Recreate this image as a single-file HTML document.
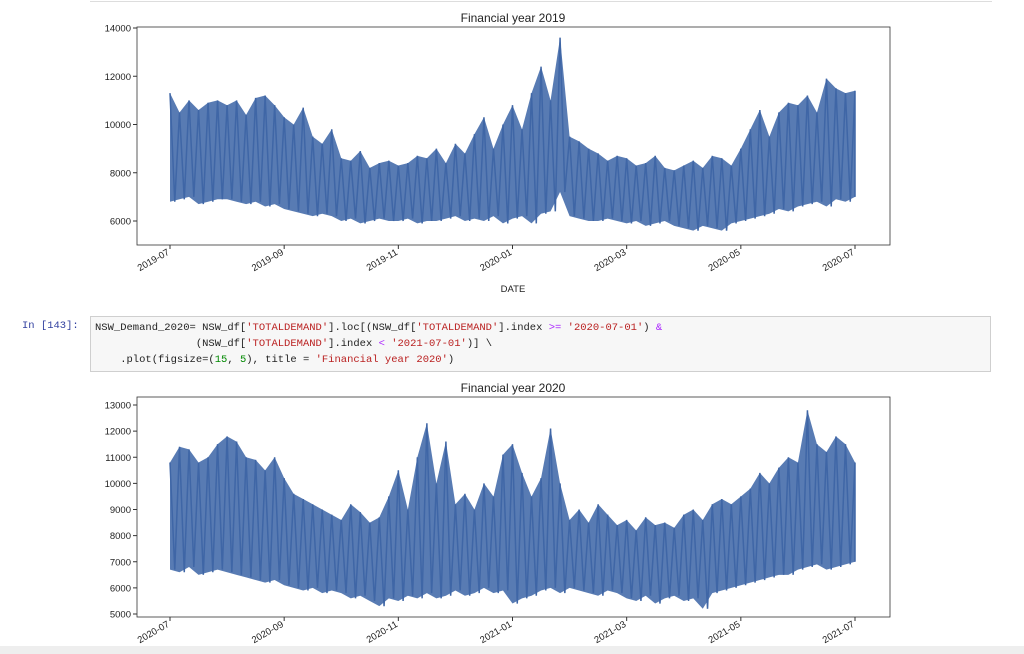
<!DOCTYPE html>
<html><head><meta charset="utf-8"><style>
body{margin:0;width:1024px;height:654px;background:#fff;overflow:hidden;font-family:"Liberation Sans",sans-serif;position:relative}
.code{position:absolute;left:90px;top:316px;width:901px;height:56px;background:#f7f7f7;border:1px solid #cfcfcf;font-family:"Liberation Mono",monospace;font-size:10.5px;line-height:16px;padding-top:3px;box-sizing:border-box;padding-left:4px;white-space:pre;color:#222}
.s{color:#ba2121}.n{color:#080}.o{color:#a2f}
</style></head><body>
<div style="position:absolute;left:90px;top:1px;width:902px;height:1px;background:#ddd"></div>
<div style="position:absolute;left:22px;top:320px;font-family:'Liberation Mono',monospace;font-size:10.5px;color:#303f9f">In  [143]:</div>
<div class="code">NSW_Demand_2020= NSW_df[<span class="s">'TOTALDEMAND'</span>].loc[(NSW_df[<span class="s">'TOTALDEMAND'</span>].index <span class="o">&gt;=</span> <span class="s">'2020-07-01'</span>) <span class="o">&amp;</span>
                (NSW_df[<span class="s">'TOTALDEMAND'</span>].index <span class="o">&lt;</span> <span class="s">'2021-07-01'</span>)] \
    .plot(figsize=(<span class="n">15</span>, <span class="n">5</span>), title = <span class="s">'Financial year 2020'</span>)</div>
<div style="position:absolute;left:0;top:646px;width:1024px;height:8px;background:#eee"></div>
<svg id="svg" width="1024" height="654" style="position:absolute;left:0;top:0"></svg>
<script>
const ticks1=["2019-07","2019-09","2019-11","2020-01","2020-03","2020-05","2020-07"];
const ticks2=["2020-07","2020-09","2020-11","2021-01","2021-03","2021-05","2021-07"];
const yTicks1=[6000,8000,10000,12000,14000];
const yTicks2=[5000,6000,7000,8000,9000,10000,11000,12000,13000];
const max1=[11300,10500,11000,10600,10900,11000,10800,11000,10400,11100,11200,10800,10300,10000,10700,9500,9200,9800,8600,8500,8900,8200,8400,8500,8300,8400,8700,8600,9000,8400,9200,8800,9600,10300,9000,10000,10800,9800,11300,12400,11000,13600,9500,9300,9000,8800,8500,8700,8600,8300,8400,8700,8200,8100,8300,8500,8200,8700,8600,8300,9000,9800,10600,9500,10500,10900,10800,11200,10500,11900,11500,11300,11400];
const min1=[6800,6900,7000,6700,6800,6900,6900,6800,6700,6800,6600,6700,6500,6400,6300,6200,6300,6200,6000,6100,5900,6000,6100,6000,6000,6100,5900,6000,6000,6100,6200,6000,6100,6000,6200,5900,6100,6200,5900,6300,6400,7200,6200,6100,6000,6000,6100,6000,5900,6000,5800,5900,6000,5800,5700,5600,5800,5700,5600,5900,6000,6100,6200,6300,6500,6400,6600,6700,6800,6600,6900,6800,7000];
const max2=[10800,11400,11300,10800,11000,11500,11800,11600,11000,10900,10500,11000,10200,9600,9400,9200,9000,8800,8600,9200,8900,8500,8700,9500,10500,9000,11000,12300,10000,11600,9200,9600,9000,10000,9500,11100,11500,10400,9500,10200,12100,10000,8600,9000,8500,9200,8800,8400,8600,8200,8700,8400,8500,8300,8800,9000,8600,9200,9400,9200,9500,9800,10400,10000,10600,11000,10800,12800,11500,11200,11800,11500,10800];
const min2=[6700,6600,6800,6500,6600,6700,6600,6500,6400,6300,6200,6300,6100,6000,5900,6000,5800,5900,5800,5600,5700,5500,5300,5600,5500,5700,5600,5800,5600,5700,5900,5700,5800,6000,5800,5900,5400,5600,5700,5900,6000,5800,6000,5900,5800,5700,5900,5800,5600,5500,5700,5400,5600,5700,5500,5600,5200,5800,5900,6000,6100,6200,6300,6400,6500,6500,6700,6800,6900,6700,6800,6900,7000];
const svg=document.getElementById('svg');const NS='http://www.w3.org/2000/svg';
function mk(t,a,p){const e=document.createElementNS(NS,t);for(const k in a)e.setAttribute(k,a[k]);(p||svg).appendChild(e);return e;}
function chart(top,bottom,yLo,yHi,yPxLo,yPxHi,yTicks,xTicks,maxA,minA,title,showDate,nm){
  const g=mk('g',{});
  
  
  const X0=170,X1=855;
  const x=i=>X0+(X1-X0)*i/(maxA.length-1);
  const y=v=>yPxLo+(yPxHi-yPxLo)*(v-yLo)/(yHi-yLo);
  const t=mk('text',{x:513,y:top-5,'text-anchor':'middle','font-size':12,fill:'#222'},g);t.textContent=title;
  
  
  let up='',dn='',zz='';
  maxA.forEach((v,i)=>{up+=x(i)+','+y(v)+' ';});
  for(let i=minA.length-1;i>=0;i--)dn+=x(i)+','+y(minA[i])+' ';
  const area=mk('polygon',{points:up+dn,fill:'#4a70ad','fill-opacity':0.92},g);
  
  
  maxA.forEach((v,i)=>{const xa=x(i),xb=x(Math.min(i+0.5,maxA.length-1));zz+=xa+','+y(v)+' '+xb+','+y(minA[i])+' ';});
  const line=mk('polyline',{points:zz,fill:'none',stroke:'#3f66a6','stroke-width':1.5},g);
  
  
  const box=mk('rect',{x:137,y:top,width:753,height:bottom-top,fill:'none',stroke:'#333','stroke-width':0.8},g);
  
  
  yTicks.forEach(v=>{const yy=y(v);mk('line',{x1:133,x2:137,y1:yy,y2:yy,stroke:'#333'},g);
    const l=mk('text',{x:131,y:yy+3.5,'text-anchor':'end','font-size':9.5,fill:'#222'},g);l.textContent=v;
    
    });
  xTicks.forEach((s,i)=>{const xx=X0+(X1-X0)*i/(xTicks.length-1);mk('line',{x1:xx,x2:xx,y1:bottom,y2:bottom+4,stroke:'#333'},g);
    const l=mk('text',{x:xx,y:bottom+9,'text-anchor':'end','font-size':9.5,fill:'#222',transform:`rotate(-30 ${xx} ${bottom+9})`},g);l.textContent=s;
    
    });
  if(showDate){const d=mk('text',{x:513,y:bottom+47,'text-anchor':'middle','font-size':9.5,fill:'#222'},g);d.textContent='DATE';
    
    }
}
chart(27,245,6000,14000,221,28,yTicks1,ticks1,max1,min1,'Financial year 2019',true,'chart-fy2019');
chart(397,617,5000,13000,614,405,yTicks2,ticks2,max2,min2,'Financial year 2020',false,'chart-fy2020');
</script>
</body></html>
